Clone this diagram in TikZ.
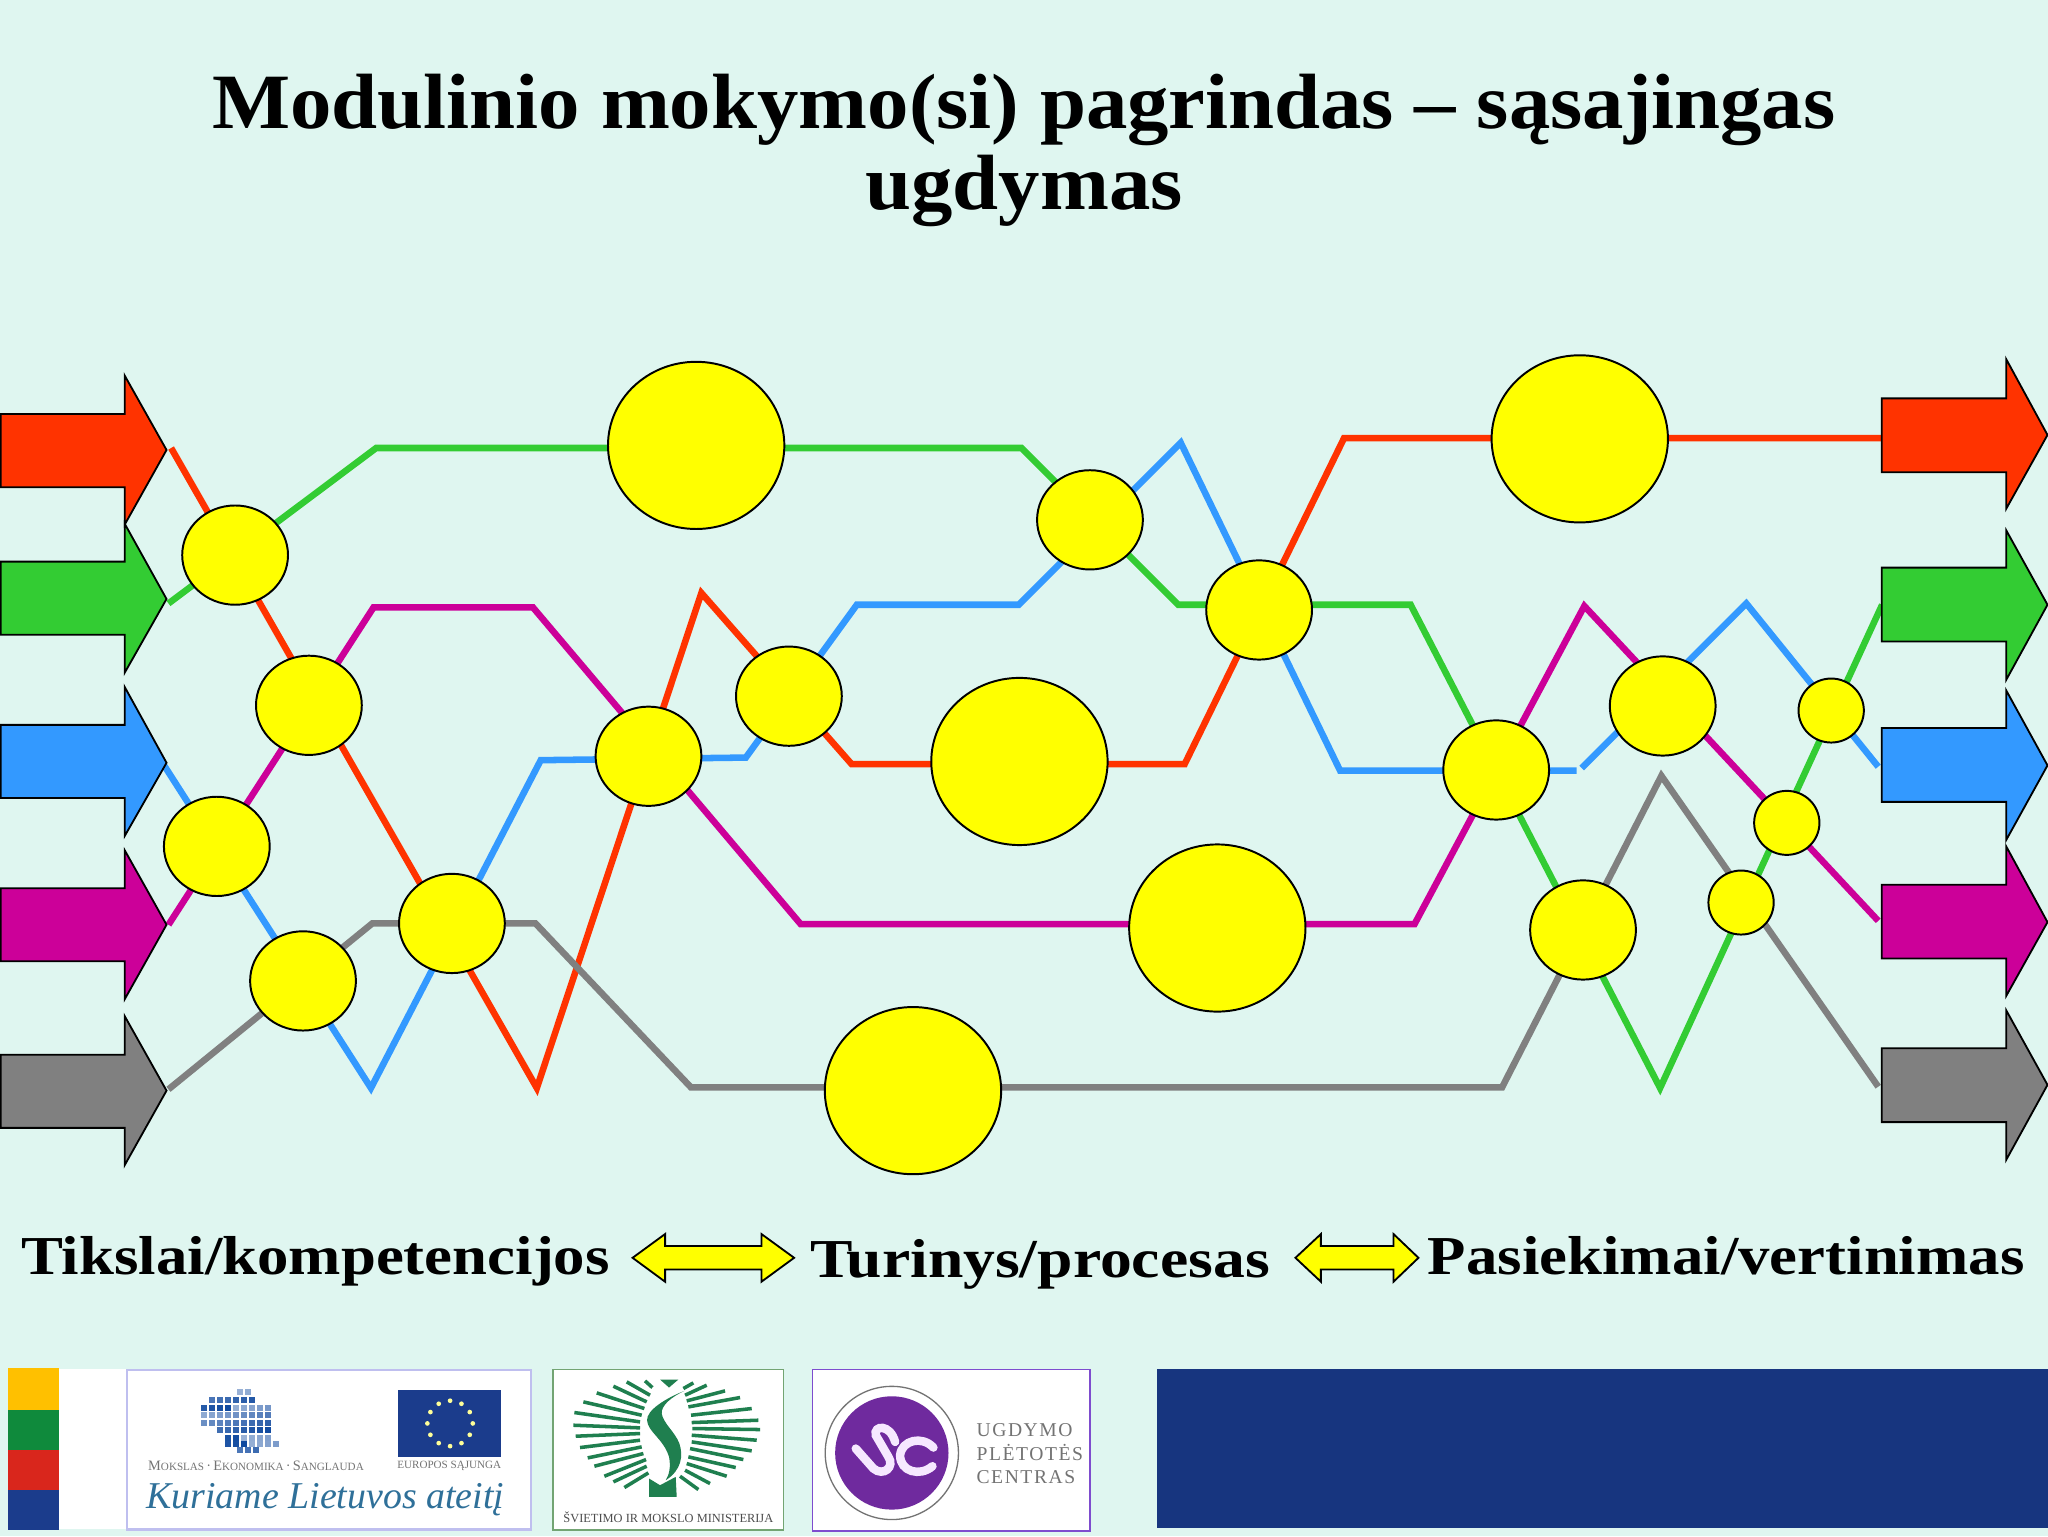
\documentclass[tikz,border=0pt]{standalone}
\usepackage{fontspec}
\setmainfont{Liberation Serif}
\usetikzlibrary{shapes.geometric,calc}
\definecolor{bgc}{HTML}{DFF6F0}
\definecolor{lred}{HTML}{FF3300}
\definecolor{lgreen}{HTML}{33CC33}
\definecolor{lblue}{HTML}{3399FF}
\definecolor{lmag}{HTML}{CC0099}
\definecolor{lgray}{HTML}{808080}
\definecolor{byel}{RGB}{255,255,0}
\definecolor{navy}{HTML}{17357F}
\definecolor{eublue}{HTML}{1B3C8C}
\definecolor{mingreen}{HTML}{1F7F4F}
\definecolor{upcpurple}{HTML}{6F2A9E}
\definecolor{flagy}{HTML}{FFC000}
\definecolor{flagg}{HTML}{0F8A3C}
\definecolor{flagr}{HTML}{D9261C}
\definecolor{kurblue}{HTML}{2F7099}
\definecolor{upcwhite}{HTML}{F6E8FF}
\tikzset{
  route/.style={line width=5pt,line join=miter},
  bubS/.style={ellipse,draw=black,line width=1.5pt,fill=byel,minimum width=81pt,minimum height=76pt,inner sep=0pt,outer sep=0pt},
  bubL/.style={bubS,minimum width=135pt,minimum height=128pt},
  bubT/.style={bubS,minimum width=50pt,minimum height=49pt},
  caption/.style={font=\fontsize{42}{42}\selectfont\bfseries\addfontfeatures{FakeStretch=1.145},anchor=base west,inner sep=0pt},
  tinytxt/.style={inner sep=0pt,text=black!55},
  arrowshape/.style={draw=black,line width=1.4pt,line join=miter},
  dblarrow/.style={draw=black,line width=1.4pt,fill=byel,line join=miter},
  ray/.style={mingreen,line width=2.7pt},
  upcstroke/.style={draw=upcwhite,line width=6.5pt,line cap=round}
}
\newcommand{\lArrow}[4]{% colour, top of head, shaft top, tip
  \filldraw[arrowshape,fill=#1] (0.5,#3) -- (95.5,#3) -- (95.5,#2) -- (127.5,#4) -- (95.5,{#2+114}) -- (95.5,{#3+56}) -- (0.5,{#3+56}) -- cycle;}
\newcommand{\rArrow}[4]{%
  \filldraw[arrowshape,fill=#1] (1440.7,#3) -- (1536,#3) -- (1536,#2) -- (1567.6,#4) -- (1536,{#2+114.5}) -- (1536,{#3+56.5}) -- (1440.7,{#3+56.5}) -- cycle;}
\newcommand{\dbl}[4]{% left tip, left inner, right inner, right tip
  \filldraw[dblarrow] (#1,963) -- (#2,944.8) -- (#2,954) -- (#3,954) -- (#3,944.8) -- (#4,963) -- (#3,981.3) -- (#3,972) -- (#2,972) -- (#2,981.3) -- cycle;}
\newcommand{\scx}[2]{{\fontsize{11}{11}\selectfont #1}{\fontsize{8.5}{9}\selectfont #2}}
\begin{document}
\begin{tikzpicture}[x=1pt,y=-1pt]
\useasboundingbox (0,0) rectangle (1568,1176);
\fill[bgc] (0,0) rectangle (1568,1176);

\node[align=center,font=\fontsize{60}{62}\selectfont\bfseries\addfontfeatures{FakeStretch=1.056},inner sep=0pt] (title) at (784,115)
  {Modulinio mokymo(si) pagrindas – sąsajingas\\ugdymas};

% routes
\draw[route,lred] (131,343) -- (322,677) -- (411,833) -- (537,454) -- (652,585) -- (907,585) -- (1029,335.5) -- (1442,335.5);
\draw[route,lgreen] (129,462) -- (288,343) -- (782,343) -- (902,463) -- (1080,463) -- (1271,833) -- (1441,463);
\draw[route,lblue] (125,585) -- (284,833) -- (414,582) -- (571,580) -- (656,463) -- (780,463) -- (904,339) -- (1026,590) -- (1207,590);
\draw[route,lblue] (1211,588) -- (1337,462) -- (1438,587);
\draw[route,lmag] (129,708) -- (286,465) -- (408,465) -- (613,707.5) -- (1083,707.5) -- (1213,464) -- (1438,705);
\draw[route,lgray] (129,834) -- (285,707) -- (410,707) -- (529,832.5) -- (1150,832.5) -- (1272,594) -- (1438,832);

% side arrows
\lArrow{lred}{287.6}{317}{344.5}
\lArrow{lgreen}{401}{430}{458.6}
\lArrow{lblue}{526}{555}{584}
\lArrow{lmag}{651}{680}{708}
\lArrow{lgray}{778}{807.5}{835}
\rArrow{lred}{275}{305}{333}
\rArrow{lgreen}{406}{434.6}{463}
\rArrow{lblue}{528.6}{557.4}{586}
\rArrow{lmag}{648}{677.4}{706}
\rArrow{lgray}{773.5}{802.6}{830.6}

% bubbles
\node[bubS] (a) at (180,425) {};
\node[bubS] (b) at (236.5,540) {};
\node[bubS] (c) at (166,648) {};
\node[bubS] (d) at (232,751) {};
\node[bubS] (e) at (346,707) {};
\node[bubS] (f) at (496.5,579) {};
\node[bubS] (g) at (604,533) {};
\node[bubL] (h) at (533,341) {};
\node[bubL] (i) at (699,835) {};
\node[bubL] (j) at (780.5,583) {};
\node[bubL] (k) at (932,710.5) {};
\node[bubS] (l) at (834.5,398) {};
\node[bubS] (m) at (964,467) {};
\node[bubL] (n) at (1209.5,336) {};
\node[bubS] (o) at (1145.5,589.5) {};
\node[bubS] (p) at (1212,712) {};
\node[bubS] (q) at (1273,540.5) {};
\node[bubT] (r) at (1402,544) {};
\node[bubT] (s) at (1368,630) {};
\node[bubT] (t) at (1333,691) {};

% caption line
\node[caption] (cap1) at (16,976) {Tikslai/kompetencijos};
\node[caption,font=\fontsize{42}{42}\selectfont\bfseries\addfontfeatures{FakeStretch=1.16}] (cap2) at (620,978) {Turinys/procesas};
\node[caption] (cap3) at (1093,976) {Pasiekimai/vertinimas};
\dbl{484.3}{509.2}{583}{608}
\dbl{991.8}{1011.3}{1066.9}{1086}

% footer: flag strip
\fill[white] (45,1048) rectangle (97,1171);
\fill[flagy] (6,1047.7) rectangle (45,1079.6);
\fill[flagg] (6,1079.6) rectangle (45,1110);
\fill[flagr] (6,1110) rectangle (45,1140.8);
\fill[eublue] (6,1140.8) rectangle (45,1171.4);

% footer: EU logo box
\filldraw[fill=white,draw=black!25!blue!25!white,line width=1.6pt] (97.5,1049) rectangle (406.6,1171);
\begin{scope}[shift={(91.9,1041.4)},x=0.2552pt,y=-0.2552pt]
  \foreach \yy/\xa/\xb in {95/360/384,118/276/396,142/252/444,165/252/468,188/252/444,210/300/444,232/324/444,250/324/468,270/360/420}{
    \foreach \k in {0,...,8}{
      \pgfmathtruncatemacro{\xv}{\xa+24*\k}
      \ifnum\xv>\xb\relax\else
        \pgfmathtruncatemacro{\shade}{40+mod(\xv*7+\yy*3,55)}
        \fill[blue!60!cyan!60!black!\shade!white] (\xv-9,\yy-9) rectangle (\xv+9,\yy+9);
      \fi
    }
  }
\end{scope}
\fill[eublue] (304.8,1064) rectangle (383.7,1115.6);
\foreach \ang in {0,30,...,330}{\fill[byel!40!white] ($(344.6,1089.8)+(\ang:17.4)$) circle (1.8);}
\node[tinytxt] (moks) at (196,1122) {\scx{M}{OKSLAS}\,\scx{·}{}\,\scx{E}{KONOMIKA}\,\scx{·}{}\,\scx{S}{ANGLAUDA}};
\node[tinytxt,font=\fontsize{8.5}{10}\selectfont] (es) at (344,1122) {EUROPOS SĄJUNGA};
\node[inner sep=0pt,text=kurblue,font=\fontsize{29}{29}\selectfont\itshape] (kur) at (249,1148.5) {Kuriame Lietuvos ateitį};

% footer: ministry logo
\filldraw[fill=white,draw=green!35!black!55!white,line width=1.4pt] (423.7,1048.5) rectangle (599.8,1171.5);
\begin{scope}[shift={(417.3,1041.4)},x=0.2552pt,y=-0.2552pt]
  \foreach \ax/\ay/\bx/\by in {300/62/322/82,245/65/315/105,205/78/305/125,155/98/298/145,115/125/290/165,88/157/285/185,85/195/285/203,92/228/285/220,105/262/285/240,128/293/290/260,148/318/295/280,178/348/303/298,205/365/305/318,238/382/310/338,445/68/415/85,485/75/420/105,540/92/425/122,585/112/430/140,620/145/438/165,640/180/440/187,645/208/442/205,635/240/440/225,620/272/440/245,595/298/435/265,572/322/430/290,545/348/425/310,495/370/420/330,460/388/405/348}{
    \draw[ray] (\ax,\ay) -- (\bx,\by);
  }
  \fill[mingreen] (345,58) -- (400,58) -- (372,82) -- cycle;
  \fill[mingreen] (418,92) .. controls (360,115) and (305,150) .. (306,180) .. controls (308,215) and (355,235) .. (372,290) .. controls (378,320) and (372,345) .. (362,360) .. controls (410,330) and (415,285) .. (403,250) .. controls (390,215) and (355,190) .. (350,160) .. controls (348,135) and (380,110) .. (418,92) -- cycle;
  \fill[mingreen] (312,355) -- (345,375) -- (392,350) -- (395,410) -- (312,410) -- cycle;
\end{scope}
\node[tinytxt,font=\fontsize{9.5}{10}\selectfont,text=black!70] (min) at (511.7,1161.4) {ŠVIETIMO IR MOKSLO MINISTERIJA};

% footer: UPC logo
\filldraw[fill=white,draw=violet!55!blue!70!white,line width=1.4pt] (622,1048.5) rectangle (834.6,1172);
\draw[black!55,line width=1pt] (682.8,1112.4) circle (51);
\fill[upcpurple] (682.8,1112.4) circle (43.4);
\begin{scope}[shift={(616.4,1041.4)},x=0.2552pt,y=-0.2552pt]
  \draw[upcstroke] (152,265) -- (205,325) .. controls (235,350) and (270,320) .. (250,290) -- (212,225) .. controls (205,195) and (255,190) .. (270,245);
  \draw[upcstroke] (385,262) .. controls (350,225) and (290,240) .. (285,285) .. controls (285,335) and (345,350) .. (382,318);
\end{scope}
\node[tinytxt,anchor=west,align=left,font=\fontsize{15}{17.9}\selectfont\addfontfeatures{LetterSpace=8}] (upc) at (747.5,1113) {UGDYMO\\PLĖTOTĖS\\CENTRAS};

% footer: blue panel
\fill[navy] (886,1048) rectangle (1568,1170);
\end{tikzpicture}
\end{document}
